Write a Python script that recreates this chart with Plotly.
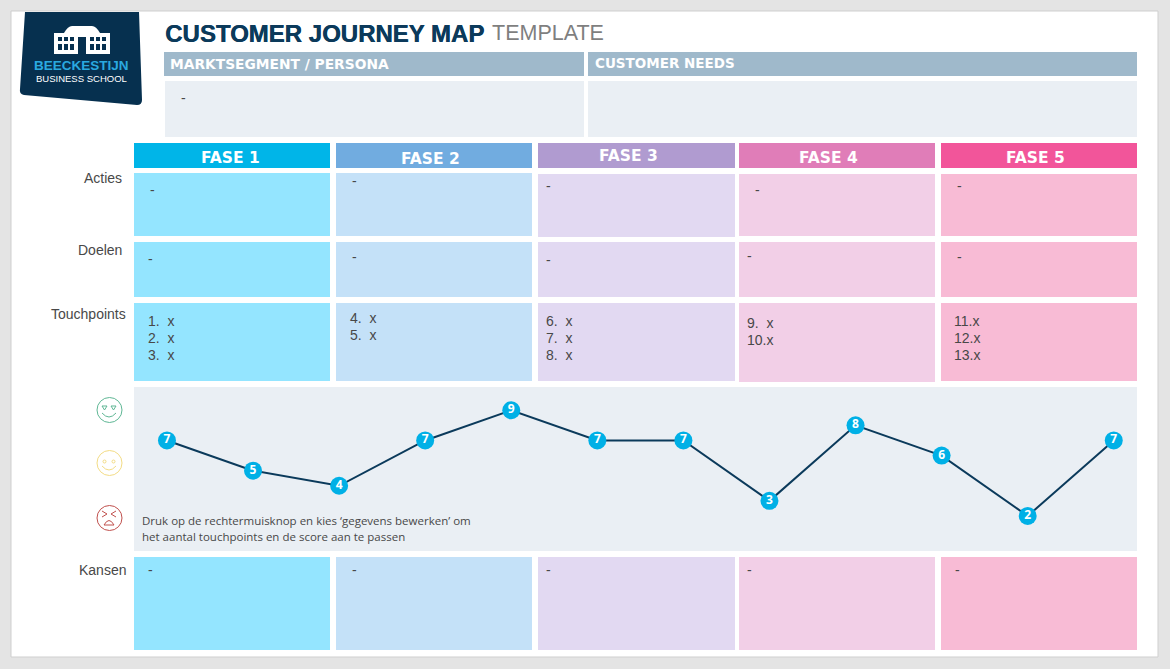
import plotly.graph_objects as go

# Score line
touchpoints = list(range(1, 13))
scores = [7, 5, 4, 7, 9, 7, 7, 3, 8, 6, 2, 7]

# Phase headers
phases = ['FASE 1', 'FASE 2', 'FASE 3', 'FASE 4', 'FASE 5']
phase_colors = ['#00b5e8', '#71ace0', '#b09bd0', '#e07db8', '#f2559a']
light_colors = ['#94e5ff', '#c4e1f8', '#e2d9f2', '#f2cfe7', '#f8bbd5']
col_left = [134, 336, 538, 739, 941]
col_right = [330, 532, 735, 935, 1137]

# Cell rows: top, bottom per column
acties_top = [173, 173, 174, 174, 174]
acties_bottom = [236, 236, 237, 236, 236]
doelen_top = [242, 242, 242, 242, 242]
doelen_bottom = [297, 297, 297, 297, 297]
touch_top = [303, 303, 303, 303, 303]
touch_bottom = [381, 381, 381, 382, 381]
kansen_top = [557, 557, 557, 557, 557]
kansen_bottom = [650, 650, 650, 650, 650]

row_labels = ['Acties', 'Doelen', 'Touchpoints', 'Kansen']
touch_text = [['1.  x', '2.  x', '3.  x'], ['4.  x', '5.  x'], ['6.  x', '7.  x', '8.  x'],
              ['9.  x', '10.x'], ['11.x', '12.x', '13.x']]

NAVY = '#0b3a5b'
TEXT = '#484848'
WIDE = 'DejaVu Sans'

fig = go.Figure()

# Line chart on its own axes
fig.add_trace(go.Scatter(x=touchpoints, y=scores, mode='lines+markers+text', text=scores,
                         textposition='middle center',
                         textfont=dict(family='Open Sans', size=12, color='white', weight='bold'),
                         line=dict(color=NAVY, width=2),
                         marker=dict(size=18, color='#00b0e6'), showlegend=False,
                         hoverinfo='skip', xaxis='x2', yaxis='y2', cliponaxis=False))

shapes = []
annos = []


def rect(x0, y0, x1, y1, color):
    shapes.append(dict(type='rect', x0=x0, y0=y0, x1=x1, y1=y1, xref='x', yref='y',
                       fillcolor=color, line_width=0, layer='below'))


def label(x, y, text, size=14, color=TEXT, family='Liberation Sans', anchor='left', bold=False, shadow=None):
    if bold:
        text = '<b>' + text + '</b>'
    font = dict(size=size, color=color, family=family)
    if shadow:
        font['shadow'] = shadow
    # annotations pad their text a little, pull it back
    shift = {'left': -1.5, 'right': 1, 'center': 0}[anchor]
    annos.append(dict(x=x + shift, y=y, text=text, xref='x', yref='y', showarrow=False, xanchor=anchor,
                      yanchor='middle', font=font, borderpad=0))


# Page background and frame
rect(0, 0, 1170, 669, '#e4e4e4')
shapes.append(dict(type='rect', x0=11, y0=11, x1=1158, y1=657, xref='x', yref='y',
                   fillcolor='white', line=dict(color='#cfcfcf', width=1), layer='below'))

# Logo
shapes.append(dict(type='path', path='M 25 12 L 139 12 L 142 100 Q 142 105 137 105 L 24 95 Q 19 94 20 89 Z',
                   xref='x', yref='y', fillcolor='#06304f', line_width=0, layer='below'))
rect(54, 33, 110, 54, 'white')
shapes.append(dict(type='path', path='M 64 33 Q 68 26 72 26 L 92 26 Q 96 26 100 33 Z', xref='x', yref='y',
                   fillcolor='white', line_width=0))
for wx in [58, 64, 70, 90, 96, 102]:
    rect(wx, 37, wx + 4, 41, '#06304f')
    rect(wx, 44, wx + 4, 50, '#06304f')
rect(78, 37, 86, 54, '#06304f')
label(81, 65, 'BEECKESTIJN', size=13.5, color='#2aa9e0', anchor='center', bold=True)
label(81, 78.5, 'BUSINESS SCHOOL', size=9.5, color='white', anchor='center')

# Title
label(165, 33, 'CUSTOMER JOURNEY MAP', size=24, color=NAVY, bold=True, shadow='0.5px 0 0 ' + NAVY)
label(492, 33, 'TEMPLATE', size=21.5, color='#7f7f7f')

# Persona and needs
rect(164, 52, 584, 76, '#9fb9cb')
rect(588, 52, 1137, 76, '#9fb9cb')
rect(165, 81, 584, 137, '#eaeff4')
rect(588, 81, 1137, 137, '#eaeff4')
label(170, 64, 'MARKTSEGMENT / PERSONA', size=13.8, color='white', family=WIDE, bold=True)
label(595, 63, 'CUSTOMER NEEDS', size=13.5, color='white', family=WIDE, bold=True)
label(181, 98, '-', size=14)

# Phases
phase_x = [230, 430, 628, 828, 1035]
phase_y = [158, 159, 156, 158, 158]
for i, name in enumerate(phases):
    rect(col_left[i], 143, col_right[i], 168, phase_colors[i])
    label(phase_x[i], phase_y[i], name, size=15.5, color='white', family=WIDE, anchor='center', bold=True)
    rect(col_left[i], acties_top[i], col_right[i], acties_bottom[i], light_colors[i])
    rect(col_left[i], doelen_top[i], col_right[i], doelen_bottom[i], light_colors[i])
    rect(col_left[i], touch_top[i], col_right[i], touch_bottom[i], light_colors[i])
    rect(col_left[i], kansen_top[i], col_right[i], kansen_bottom[i], light_colors[i])

# Row labels
label(122, 178, row_labels[0], anchor='right')
label(122, 250, row_labels[1], anchor='right')
label(126, 314, row_labels[2], anchor='right')
label(126, 570, row_labels[3], anchor='right')

# Dashes in the cells
dash_acties = [(150, 190), (352, 181), (546, 186), (755, 190), (957, 186)]
dash_doelen = [(148, 259), (352, 257), (546, 260), (747, 256), (957, 257)]
dash_kansen = [(148, 570), (352, 570), (546, 570), (747, 570), (955, 570)]
for x, y in dash_acties + dash_doelen + dash_kansen:
    label(x, y, '-', size=14)

# Touchpoint lists
touch_x = [148, 350, 546, 747, 954]
touch_y = [321, 318, 321, 323, 321]
for i, lines in enumerate(touch_text):
    for j, line in enumerate(lines):
        label(touch_x[i], touch_y[i] + j * 17, line.replace('  ', '&nbsp;&nbsp;'), size=14)

# Score panel
rect(134, 387, 1137, 551, '#eaeff4')
label(142, 520, 'Druk op de rechtermuisknop en kies ‘gegevens bewerken’ om', size=11.5, family='Open Sans')
label(142, 536, 'het aantal touchpoints en de score aan te passen', size=11.5, family='Open Sans')

# Smileys
GREEN = '#5fb795'
YELLOW = '#f3dc85'
RED = '#c0504d'
for cy, col in [(410, GREEN), (463, YELLOW), (518, RED)]:
    shapes.append(dict(type='circle', x0=97, x1=122, y0=cy - 12.5, y1=cy + 12.5, xref='x', yref='y',
                       line=dict(color=col, width=1)))
shapes.append(dict(type='path', path='M 102 413 Q 109 421 116 413', xref='x', yref='y', line=dict(color=GREEN, width=1)))
shapes.append(dict(type='path', path='M 102 406 L 107 406 L 104.5 410 Z', xref='x', yref='y', line=dict(color=GREEN, width=1)))
shapes.append(dict(type='path', path='M 111 406 L 116 406 L 113.5 410 Z', xref='x', yref='y', line=dict(color=GREEN, width=1)))
shapes.append(dict(type='path', path='M 102 466 Q 109 474 116 466', xref='x', yref='y', line=dict(color=YELLOW, width=1)))
shapes.append(dict(type='circle', x0=103, x1=106, y0=460, y1=463, xref='x', yref='y', line=dict(color=YELLOW, width=1)))
shapes.append(dict(type='circle', x0=112, x1=115, y0=460, y1=463, xref='x', yref='y', line=dict(color=YELLOW, width=1)))
shapes.append(dict(type='path', path='M 102 511 L 107 514 L 102 517', xref='x', yref='y', line=dict(color=RED, width=1)))
shapes.append(dict(type='path', path='M 116 511 L 111 514 L 116 517', xref='x', yref='y', line=dict(color=RED, width=1)))
shapes.append(dict(type='path', path='M 104 525 Q 109 516 114 525 Z', xref='x', yref='y', line=dict(color=RED, width=1)))

fig.update_layout(
    width=1170, height=669, margin=dict(l=0, r=0, t=0, b=0), paper_bgcolor='white', plot_bgcolor='rgba(0,0,0,0)',
    shapes=shapes, annotations=annos, showlegend=False,
    xaxis=dict(range=[0, 1170], domain=[0, 1], visible=False, fixedrange=True),
    yaxis=dict(range=[669, 0], domain=[0, 1], visible=False, fixedrange=True),
    xaxis2=dict(range=[0.617, 12.27], domain=[134 / 1170, 1137 / 1170], visible=False, anchor='y2', fixedrange=True),
    yaxis2=dict(range=[-0.32, 10.54], domain=[(669 - 551) / 669, (669 - 387) / 669], visible=False, anchor='x2', fixedrange=True),
)

fig.write_html("out.html", config=dict(displayModeBar=False),
               post_script="document.body.style.margin='0';document.documentElement.style.overflow='hidden';")
